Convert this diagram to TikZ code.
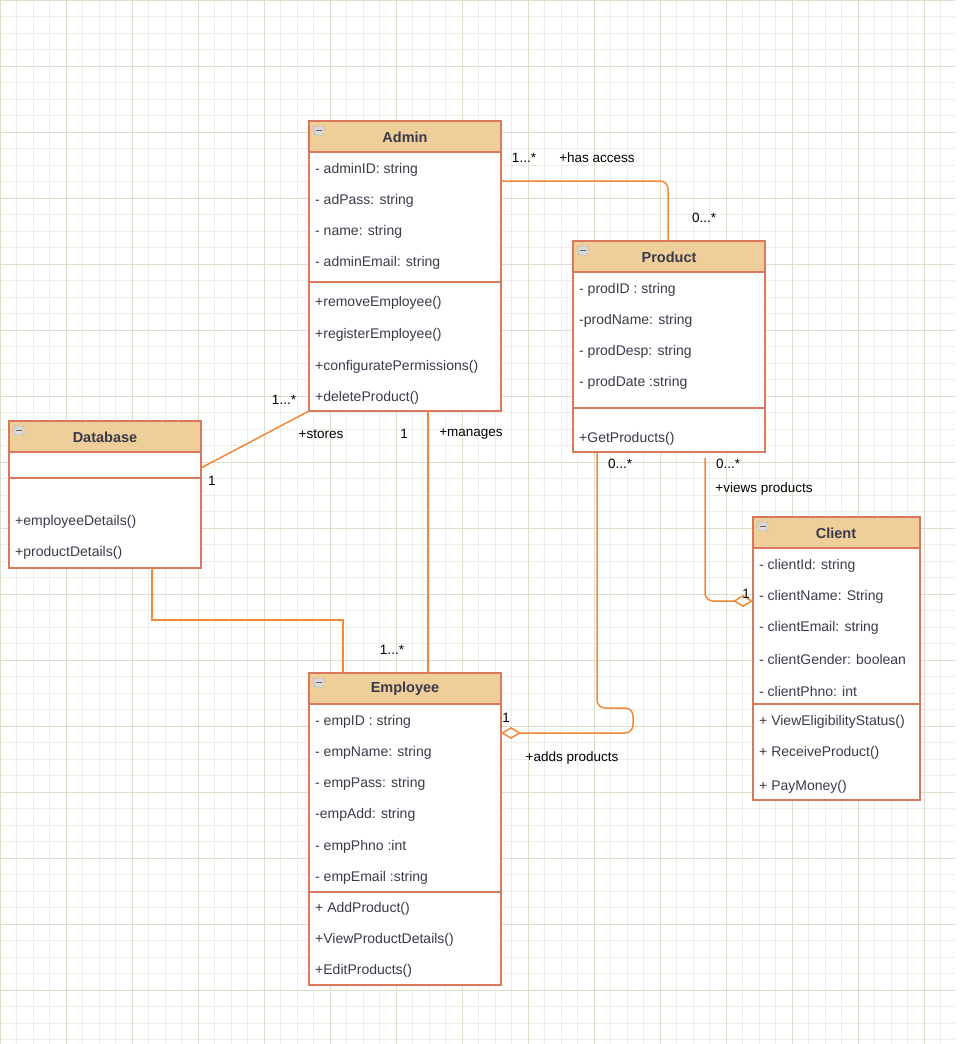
\documentclass[tikz,border=0pt]{standalone}
\usepackage{fontspec}
\setmainfont{Liberation Sans}
\usetikzlibrary{arrows.meta}
\definecolor{bord}{HTML}{D9785C}
\definecolor{hdr}{HTML}{EECE99}
\definecolor{conn}{HTML}{F0893A}
\definecolor{txt}{HTML}{3A3A4A}
\definecolor{gmin}{HTML}{EEEEE6}
\definecolor{gmaj}{HTML}{DEDCCB}
\begin{document}
\begin{tikzpicture}[x=1pt,y=-1pt,
  box/.style={draw=bord,line width=1.4pt},
  head/.style={box,fill=hdr},
  htext/.style={font=\fontsize{14.5}{16}\selectfont\bfseries,text=txt},
  row/.style={anchor=west,font=\fontsize{14}{16}\selectfont,text=txt,inner sep=0pt,yshift=-2pt},
  lab/.style={font=\fontsize{13.5}{16}\selectfont,text=black,inner sep=0pt,yshift=-1pt},
  cn/.style={draw=conn,line width=1.5pt,rounded corners=8pt},
  agg/.style={-{Diamond[open,length=20pt,width=12pt]}}]
\useasboundingbox (0,0) rectangle (970,1044);
\fill[white] (0,0) rectangle (970,1044);
\foreach \x in {0,16.5,...,960} \draw[gmin,line width=0.6pt] (\x,0) -- (\x,1044);
\foreach \y in {0,16.5,...,1044} \draw[gmin,line width=0.6pt] (0,\y) -- (955,\y);
\foreach \x in {0,66,...,960} \draw[gmaj,line width=0.8pt] (\x,0) -- (\x,1044);
\foreach \y in {0,66,...,1044} \draw[gmaj,line width=0.8pt] (0,\y) -- (955,\y);
\fill[white] (955,0) rectangle (970,1044);
\newcommand{\cicon}[2]{\draw[fill=gray!30,draw=gray!70,rounded corners=1pt] (#1+5,#2+5) rectangle (#1+15,#2+14); \draw[gray!80!black,line width=1.2pt] (#1+7,#2+9.5) -- (#1+13,#2+9.5);}
% Admin
\draw[box,fill=white] (309,121) rectangle (501,411);
\draw[head] (309,121) rectangle (501,152);
\node[htext] (admin) at (405,137) {Admin};
\cicon{309}{121}
\draw[box] (309,282) -- (501,282);
\foreach \t/\y in {{- adminID:  string}/168,{- adPass:  string}/199,{- name:  string}/230,{- adminEmail:  string}/261,{+removeEmployee()}/301,{+registerEmployee()}/333,{+configuratePermissions()}/365,{+deleteProduct()}/396}
  \node[row] at (315,\y) {\t};
\coordinate (adminR) at (501,181);
\coordinate (adminBL) at (309,411);
\coordinate (adminB) at (428,411);
% Product
\draw[box,fill=white] (573,241) rectangle (765,452);
\draw[head] (573,241) rectangle (765,272);
\node[htext] (product) at (669,257) {Product};
\cicon{573}{241}
\draw[box] (573,408) -- (765,408);
\foreach \t/\y in {{- prodID : string}/288,{-prodName:  string}/319,{- prodDesp: string}/350,{- prodDate :string}/381,{+GetProducts()}/437}
  \node[row] at (579,\y) {\t};
\coordinate (prodT) at (668,241);
\coordinate (prodB1) at (597,452);
\coordinate (prodB2) at (705,458);
% Database
\draw[box,fill=white] (9,421) rectangle (201,568);
\draw[head] (9,421) rectangle (201,452);
\node[htext] (db) at (105,437) {Database};
\cicon{9}{421}
\draw[box] (9,478) -- (201,478);
\foreach \t/\y in {{+employeeDetails()}/520,{+productDetails()}/551}
  \node[row] at (15,\y) {\t};
\coordinate (dbR) at (201,468);
\coordinate (dbB) at (152,568);
% Client
\draw[box,fill=white] (753,517) rectangle (920,800);
\draw[head] (753,517) rectangle (920,548);
\node[htext] (client) at (836,533) {Client};
\cicon{753}{517}
\draw[box] (753,704) -- (920,704);
\foreach \t/\y in {{- clientId: string}/564,{- clientName: String}/595,{- clientEmail: string}/626,{- clientGender: boolean}/657,{- clientPhno: int}/689,{+ ViewEligibilityStatus()}/720,{+ ReceiveProduct()}/751,{+ PayMoney()}/785}
  \node[row] at (759,\y) {\t};
\coordinate (clientL) at (753,601);
% Employee
\draw[box,fill=white] (309,673) rectangle (501,985);
\draw[head] (309,673) rectangle (501,704);
\node[htext] (emp) at (405,689) {Employee};
\cicon{309}{673}
\draw[box] (309,892) -- (501,892);
\foreach \t/\y in {{- empID : string}/720,{- empName:  string}/751,{- empPass:  string}/782,{-empAdd: string}/813,{- empPhno :int}/845,{- empEmail :string}/876,{+ AddProduct()}/907,{+ViewProductDetails()}/938,{+EditProducts()}/969}
  \node[row] at (315,\y) {\t};
\coordinate (empT1) at (343,673);
\coordinate (empT2) at (428,673);
\coordinate (empR) at (501,733);
% connectors
\draw[cn] (adminR) -- (668,181) -- (prodT);
\draw[cn] (dbR) -- (adminBL);
\draw[cn] (adminB) -- (empT2);
\draw[cn,rounded corners=0pt] (dbB) -- (152,620) -- (343,620) -- (empT1);
\draw[cn,agg] (prodB1) -- (597,708) -- (633,708) -- (633,733) -- (empR);
\draw[cn,agg] (prodB2) -- (705,601) -- (clientL);
% labels
\node[lab] at (524,157) {1...*};
\node[lab] at (597,157) {+has access};
\node[lab] at (704,217) {0...*};
\node[lab] at (284,399) {1...*};
\node[lab] at (321,433) {+stores};
\node[lab] at (212,480) {1};
\node[lab] at (404,433) {1};
\node[lab] at (471,433) {+manages};
\node[lab] at (392,649) {1...*};
\node[lab] at (620,463) {0...*};
\node[lab] at (506,717) {1};
\node[lab] at (572,757) {+adds products};
\node[lab] at (728,463) {0...*};
\node[lab] at (764,488) {+views products};
\node[lab] at (746,593) {1};
\end{tikzpicture}
\end{document}
